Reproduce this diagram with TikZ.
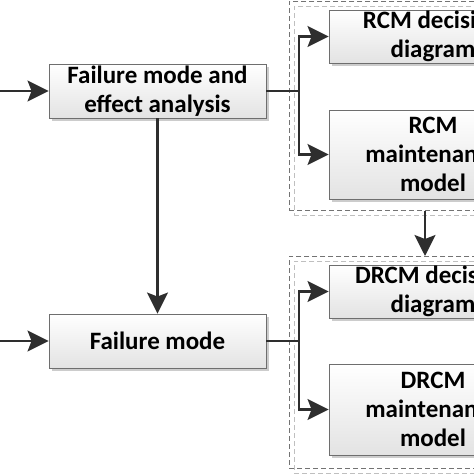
\documentclass[tikz,border=0pt]{standalone}
\usepackage{fontspec}
\setmainfont{Carlito}
\usetikzlibrary{arrows.meta,shadows}
\definecolor{linec}{HTML}{2E2E2E}
\definecolor{boxline}{HTML}{6E6E6E}
\tikzset{
  blk/.style={draw=boxline, line width=0.9pt, top color=white, bottom color=black!11,
    minimum width=217pt, inner sep=0pt, align=center,
    font=\fontsize{25}{29}\selectfont\bfseries,
    drop shadow={shadow xshift=3pt, shadow yshift=-3.5pt, fill=black!20, opacity=1}},
  blkr/.style={blk, minimum width=208pt},
  arr/.style={draw=linec, line width=2.2pt, -{Stealth[length=21pt,width=21pt,inset=4pt]}},
  ln/.style={draw=linec, line width=2.2pt},
  grp/.style={draw=black!55, dashed, dash pattern=on 5pt off 3pt, line width=0.9pt, inner sep=0pt},
  grpsh/.style={draw=black!25, dashed, dash pattern=on 5pt off 3pt, line width=0.9pt, inner sep=0pt},
}
\begin{document}
\begin{tikzpicture}[x=1pt,y=1pt]
\useasboundingbox (0,0) rectangle (474,474);
\clip (0,0) rectangle (474,474);
% dashed groups
\node[grpsh, anchor=north west, minimum width=280pt, minimum height=209pt] (g1s) at (294,468) {};
\node[grp, anchor=north west, minimum width=280pt, minimum height=209pt] (g1) at (289,473) {};
\node[grpsh, anchor=north west, minimum width=280pt, minimum height=212pt] (g2s) at (294,213) {};
\node[grp, anchor=north west, minimum width=280pt, minimum height=212pt] (g2) at (289,218) {};
% boxes
\node[blk, minimum height=54pt] (fmea) at (157.5,383) {Failure mode and\\effect analysis};
\node[blk, minimum height=54pt] (fm) at (157.5,133) {Failure mode};
\node[blkr, minimum height=53pt] (rd) at (433,437.5) {RCM decision\\diagram};
\node[blkr, minimum height=89pt] (rm) at (433,319.5) {RCM\\maintenance\\model};
\node[blkr, minimum height=53pt] (dd) at (433,182.5) {DRCM decision\\diagram};
\node[blkr, minimum height=91pt] (dm) at (433,64.5) {DRCM\\maintenance\\model};
% free ends
\coordinate (in1) at (0,383);
\coordinate (in2) at (0,133);
\coordinate (b1) at (299,383);
\coordinate (b2) at (299,133);
\coordinate (cx) at (425,0);
% connectors
\draw[arr] (in1) -- (fmea.west);
\draw[arr] (in2) -- (fm.west);
\draw[arr] (fmea.south) -- (fm.north);
\draw[ln] (fmea.east) -- (b1);
\draw[arr] (b1) |- (rd.west);
\draw[arr] (b1) |- (rm.west);
\draw[ln] (fm.east) -- (b2);
\draw[arr] (b2) |- (dd.west);
\draw[arr] (b2) |- (dm.west);
\draw[arr] (g1.south -| cx) -- (g2.north -| cx);
\end{tikzpicture}
\end{document}
